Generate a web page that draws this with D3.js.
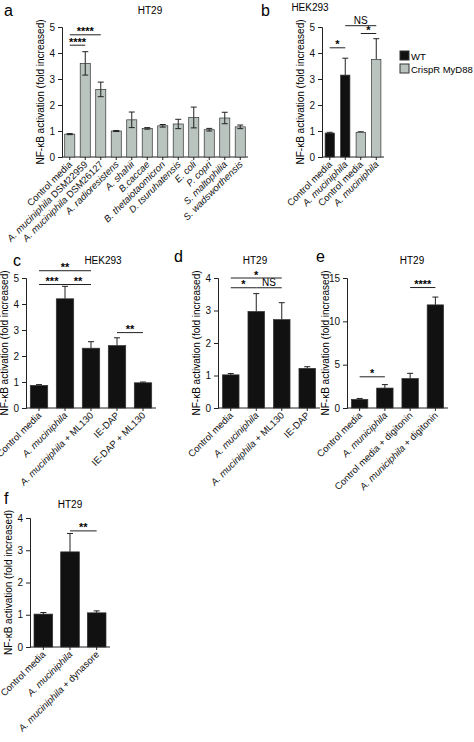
<!DOCTYPE html>
<html><head><meta charset="utf-8">
<script src="https://cdn.jsdelivr.net/npm/d3@7"></script>
<style>body{margin:0;background:#fff}text{font-family:Arial,"Liberation Sans",sans-serif}</style>
</head><body>
<svg id="fig" width="474" height="742"></svg>
<script>
const svg = d3.select("#fig");
const GREY = "#b9c4bf", BLACK = "#111";

// data
const aCats = ["Control media","A. muciniphila DSM22959","A. muciniphila DSM26127","A. radioresistens","A. shahii","B.caccae","B. thetaiotaomicron","D. tsuruhatensis","E. coli","P. copri","S. maltophilia","S. wadsworthensis"];
const aVals = [0.88,3.6,2.6,1.0,1.43,1.1,1.2,1.27,1.52,1.05,1.5,1.16];
const aErr  = [0.02,0.45,0.28,0.02,0.3,0.03,0.05,0.18,0.4,0.05,0.22,0.07];
const bCats = ["Control media","A. muciniphila","Control media","A. muciniphila"];
const bVals = [0.92,3.15,0.95,3.75];
const bErr  = [0.03,0.65,0.02,0.8];
const cCats = ["Control media","A. muciniphila","A. muciniphila + ML130","IE-DAP","IE-DAP + ML130"];
const cVals = [0.87,4.2,2.3,2.4,0.97];
const cErr  = [0.03,0.48,0.25,0.3,0.03];
const dCats = ["Control media","A. muciniphila","A. muciniphila + ML130","IE-DAP"];
const dVals = [1.02,2.97,2.72,1.22];
const dErr  = [0.04,0.55,0.52,0.05];
const eCats = ["Control media","A. municiphila","Control media + digitonin","A. municiphila + digitonin"];
const eVals = [1.0,2.3,3.4,11.9];
const eErr  = [0.1,0.4,0.6,0.9];
const fCats = ["Control media","A. muciniphila","A. muciniphila + dynasore"];
const fVals = [1.02,2.95,1.06];
const fErr  = [0.05,0.57,0.06];

function italicLabel(t, s){
  const m = s.match(/^(A\.|B\.|D\.|E\.|P\.|S\.)(\s?\S+)(.*)$/);
  if(!m){ t.text(s); return; }
  t.append("tspan").attr("font-style","italic").text(m[1]+m[2]);
  t.append("tspan").text(m[3]);
}

function panel(o){
  const g = svg.append("g");
  const x = d3.scaleBand().domain(d3.range(o.vals.length)).range([o.x0, o.x1]).paddingInner(o.pad).paddingOuter(o.pad/2);
  const y = d3.scaleLinear().domain([0, o.max]).range([o.y0, o.y1]);
  g.append("g").attr("transform",`translate(${o.x0},0)`).call(d3.axisLeft(y).tickValues(o.ticks).tickSize(4).tickFormat(d3.format("d")))
    .call(a=>{a.selectAll("text").attr("font-size",10).attr("fill","#111");a.selectAll("line,path").attr("stroke","#222");});
  g.append("line").attr("x1",o.x0).attr("x2",o.x1).attr("y1",o.y0).attr("y2",o.y0).attr("stroke","#222");
  const bw = x.bandwidth();
  o.vals.forEach((v,i)=>{
    const cx = x(i)+bw/2, col = o.colors ? o.colors[i] : o.color;
    g.append("line").attr("x1",cx).attr("x2",cx).attr("y1",y(v)).attr("y2",y(v+o.err[i])).attr("stroke","#222");
    g.append("line").attr("x1",cx-3).attr("x2",cx+3).attr("y1",y(v+o.err[i])).attr("y2",y(v+o.err[i])).attr("stroke","#222");
    g.append("rect").attr("x",x(i)).attr("width",bw).attr("y",y(v)).attr("height",o.y0-y(v)).attr("fill",col).attr("stroke","#333").attr("stroke-width",0.7);
    if(o.twoSided){
      g.append("line").attr("x1",cx).attr("x2",cx).attr("y1",y(v)).attr("y2",y(v-o.err[i])).attr("stroke","#222");
      g.append("line").attr("x1",cx-3).attr("x2",cx+3).attr("y1",y(v-o.err[i])).attr("y2",y(v-o.err[i])).attr("stroke","#222");
    }
    g.append("line").attr("x1",cx).attr("x2",cx).attr("y1",o.y0).attr("y2",o.y0+3).attr("stroke","#222");
    const t = g.append("text").attr("transform",`translate(${cx+3},${o.y0+8}) rotate(-45)`).attr("text-anchor","end").attr("font-size",o.lfs||9.5).attr("fill","#111");
    italicLabel(t, o.cats[i]);
  });
  (o.sig||[]).forEach(s=>{
    const xa = x(s[0])+bw/2, xb = x(s[1])+bw/2, yy = y(s[2]);
    g.append("line").attr("x1",xa).attr("x2",xb).attr("y1",yy).attr("y2",yy).attr("stroke","#222");
    const ns = s[3]==="NS";
    g.append("text").attr("x",(xa+xb)/2).attr("y",ns?yy-2:yy+0.5).attr("text-anchor","middle").attr("font-size",ns?10:11).attr("font-weight",ns?"normal":"bold").text(s[3]);
  });
  g.append("text").attr("x",o.tx).attr("y",o.ty).attr("text-anchor","middle").attr("font-size",10).text(o.title);
  g.append("text").attr("x",o.lx).attr("y",o.ly).attr("font-size",16).text(o.letter);
  g.append("text").attr("transform",`translate(${o.x0-18},${(o.y0+o.y1)/2}) rotate(-90)`).attr("text-anchor","middle").attr("font-size",10)
    .text("NF-κB activation (fold increased)");
  return g;
}

panel({letter:"a",lx:4,ly:16,title:"HT29",tx:150,ty:14,cats:aCats,vals:aVals,err:aErr,color:GREY,twoSided:true,
  x0:62,x1:248,y0:157,y1:27,max:5,ticks:[0,1,2,3,4,5],pad:0.35,sig:[[0,1,4.3,"****"],[0,2,4.7,"****"]]});
const gb = panel({letter:"b",lx:261,ly:16,title:"HEK293",tx:310,ty:11,cats:bCats,vals:bVals,err:bErr,colors:[BLACK,BLACK,GREY,GREY],
  x0:322,x1:384,y0:157,y1:27,max:5,ticks:[0,1,2,3,4,5],pad:0.4,sig:[[0,1,4.2,"*"],[2,3,4.75,"*"],[1,3,5.05,"NS"]]});
[["WT",BLACK,56],["CrispR MyD88",GREY,69]].forEach(l=>{
  gb.append("rect").attr("x",400).attr("y",l[2]-5).attr("width",9).attr("height",9).attr("fill",l[1]).attr("stroke","#333");
  gb.append("text").attr("x",411).attr("y",l[2]+3.5).attr("font-size",9.5).text(l[0]);
});
panel({letter:"c",lx:13,ly:266,title:"HEK293",tx:103,ty:264,cats:cCats,vals:cVals,err:cErr,color:BLACK,
  x0:26,x1:156,y0:408,y1:278,max:5,ticks:[0,1,2,3,4,5],pad:0.33,sig:[[0,1,4.75,"***"],[1,2,4.75,"**"],[0,2,5.28,"**"],[3,4,2.9,"**"]]});
panel({letter:"d",lx:174,ly:262,title:"HT29",tx:255,ty:264,cats:dCats,vals:dVals,err:dErr,color:BLACK,
  x0:218,x1:320,y0:408,y1:278,max:4,ticks:[0,1,2,3,4],pad:0.35,sig:[[0,1,3.7,"*"],[1,2,3.7,"NS"],[0,2,4.0,"*"]]});
panel({letter:"e",lx:316,ly:262,title:"HT29",tx:412,ty:264,cats:eCats,vals:eVals,err:eErr,color:BLACK,
  x0:347,x1:448,y0:408,y1:278,max:15,ticks:[0,5,10,15],pad:0.35,sig:[[0,1,3.6,"*"],[2,3,13.9,"****"]]});
panel({letter:"f",lx:4,ly:504,title:"HT29",tx:70,ty:508,cats:fCats,vals:fVals,err:fErr,color:BLACK,
  x0:30,x1:110,y0:647,y1:518,max:4,ticks:[0,1,2,3,4],pad:0.3,sig:[[1,2,3.6,"**"]]});
</script>
</body></html>
